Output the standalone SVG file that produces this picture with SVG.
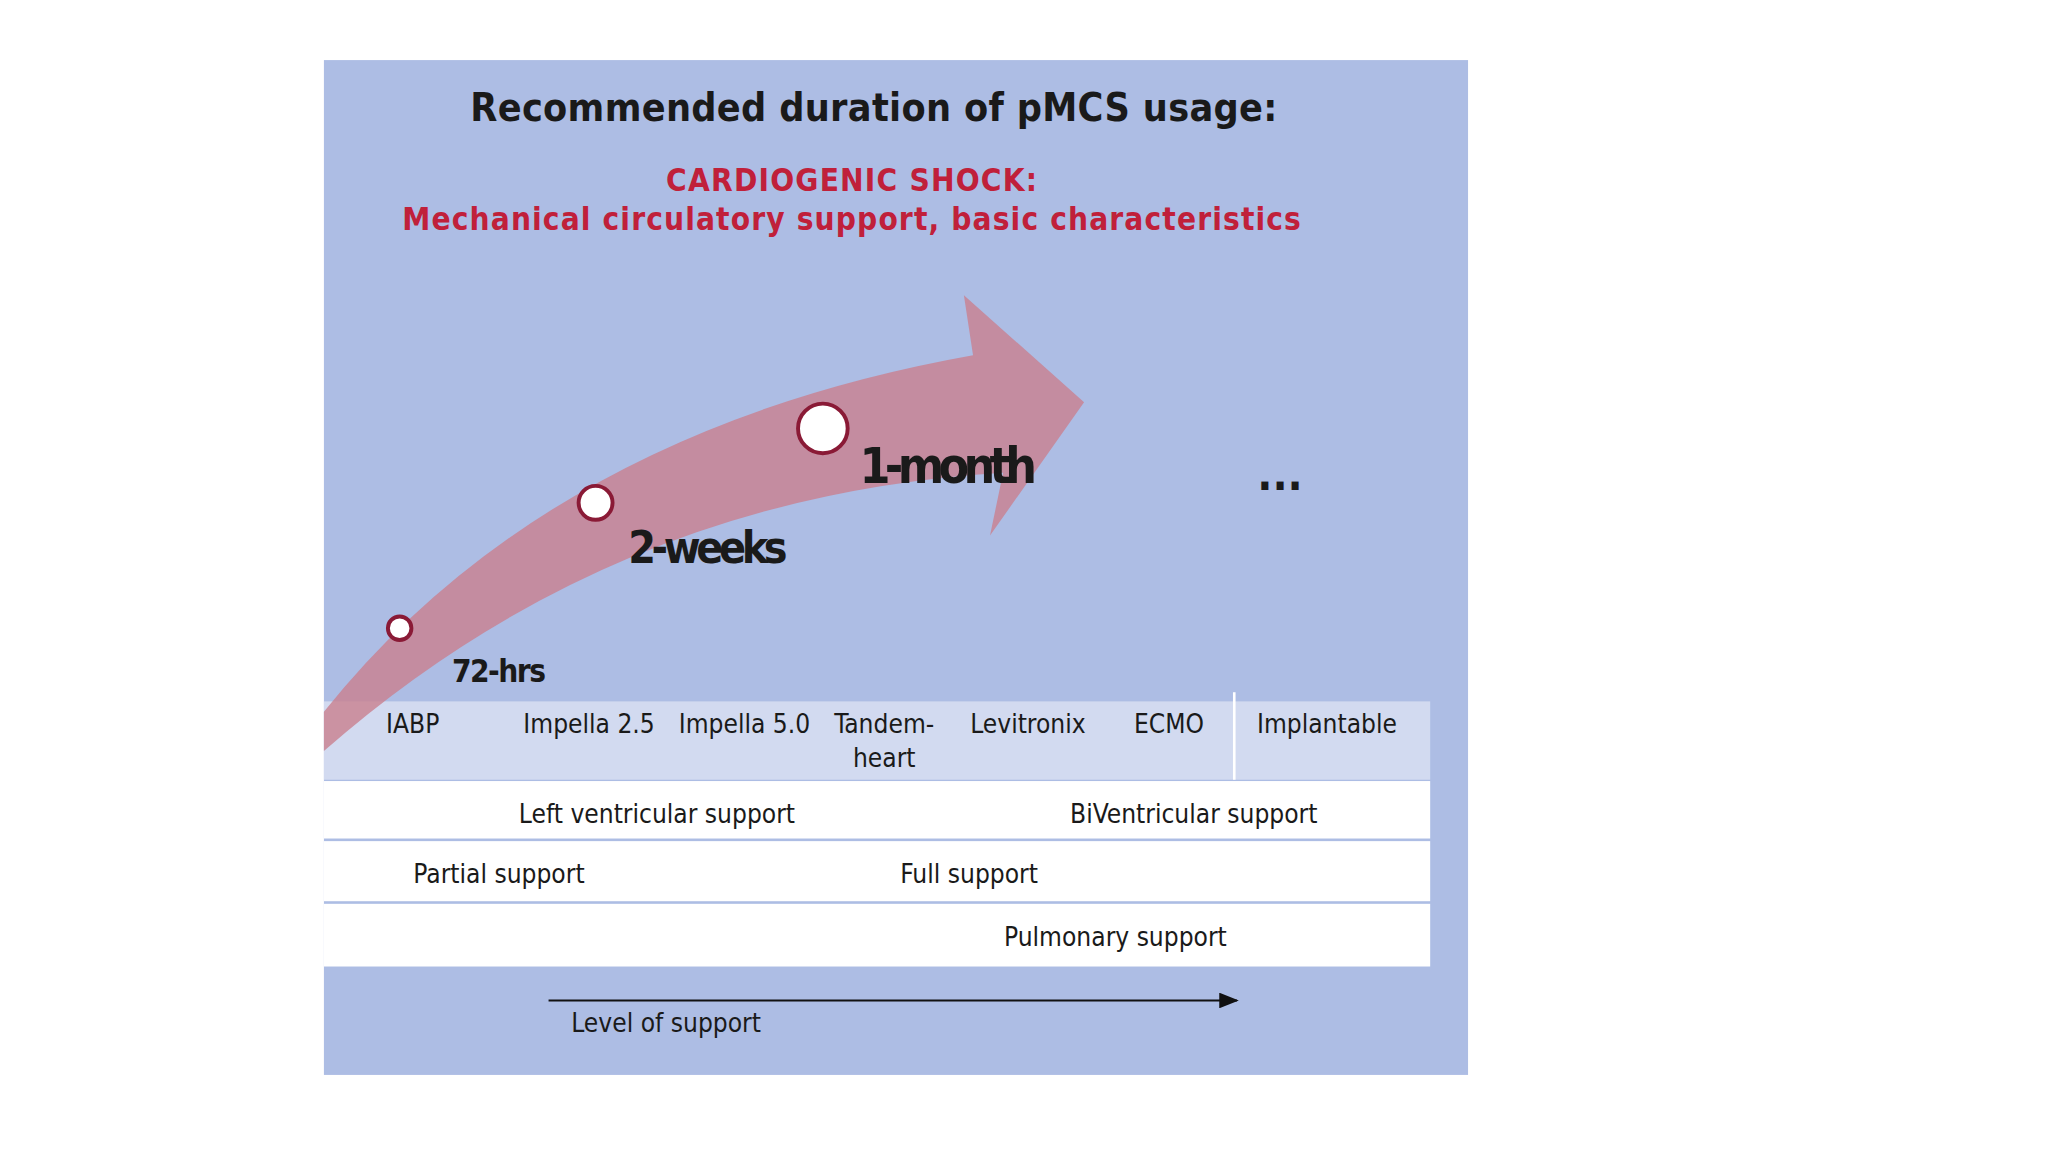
<svg xmlns="http://www.w3.org/2000/svg" width="2048" height="1152" viewBox="0 0 2048 1152">
<style>
.t{font-family:"DejaVu Sans Condensed","DejaVu Sans",sans-serif;fill:#1a1a1a}
.r{font-family:"DejaVu Sans Condensed","DejaVu Sans",sans-serif;fill:#c0203a;font-weight:bold;font-size:24px}
.l{font-size:20px}
.b{font-weight:bold}
.dot{fill:#fff;stroke:#8a1a36;stroke-width:3}
</style>
<defs><marker id="ah" markerWidth="10" markerHeight="8" refX="9" refY="4" orient="auto"><path d="M0,0 L10,4 L0,8 Z" fill="#111"/></marker></defs>
<rect width="2048" height="1152" fill="#fff"/>
<g transform="scale(1.3061)">
<rect x="248" y="46" width="876" height="777" fill="#adbde4"/>
<g id="table">
<rect x="248" y="537" width="847" height="60" fill="#d2daf0"/>
<line x1="945" y1="530" x2="945" y2="597" stroke="#fff" stroke-width="2"/>
<rect x="248" y="598" width="847" height="44" fill="#fff"/>
<rect x="248" y="644" width="847" height="46" fill="#fff"/>
<rect x="248" y="692" width="847" height="48" fill="#fff"/>
</g>
<g id="arrow">
<path d="M248,545 Q420,330 745,272 L738,226 L830,308 L758,410 L768,362 Q470,380 248,575 Z" fill="#c9808f" opacity="0.8"/>
<circle class="dot" cx="306" cy="481" r="9"/>
<circle class="dot" cx="456" cy="385" r="13"/>
<circle class="dot" cx="630" cy="328" r="19"/>
</g>
<g id="titles">
<text class="t b" x="669" y="93" font-size="30" text-anchor="middle" textLength="618">Recommended duration of pMCS usage:</text>
<text class="r" x="652" y="146" text-anchor="middle" textLength="284">CARDIOGENIC SHOCK:</text>
<text class="r" x="652" y="176" text-anchor="middle" textLength="688">Mechanical circulatory support, basic characteristics</text>
</g>
<g id="labels">
<text class="t b" x="346" y="522" font-size="24" textLength="72">72-hrs</text>
<text class="t b" x="481" y="431" font-size="34" textLength="122">2-weeks</text>
<text class="t b" x="658" y="370" font-size="38" textLength="136">1-month</text>
<text class="t b" x="980" y="375" font-size="34" text-anchor="middle">...</text>
</g>
<g id="devices" class="t l" text-anchor="middle">
<text x="316" y="561">IABP</text>
<text x="451" y="561">Impella 2.5</text>
<text x="570" y="561">Impella 5.0</text>
<text x="677" y="561">Tandem-</text>
<text x="677" y="587">heart</text>
<text x="787" y="561">Levitronix</text>
<text x="895" y="561">ECMO</text>
<text x="1016" y="561">Implantable</text>
<text x="503" y="630">Left ventricular support</text>
<text x="914" y="630">BiVentricular support</text>
<text x="382" y="676">Partial support</text>
<text x="742" y="676">Full support</text>
<text x="854" y="724">Pulmonary support</text>
<text x="510" y="790">Level of support</text>
</g>
<g id="connectors">
<line x1="420" y1="766" x2="947" y2="766" stroke="#111" stroke-width="1.5" marker-end="url(#ah)"/>
</g>
</g>
</svg>
